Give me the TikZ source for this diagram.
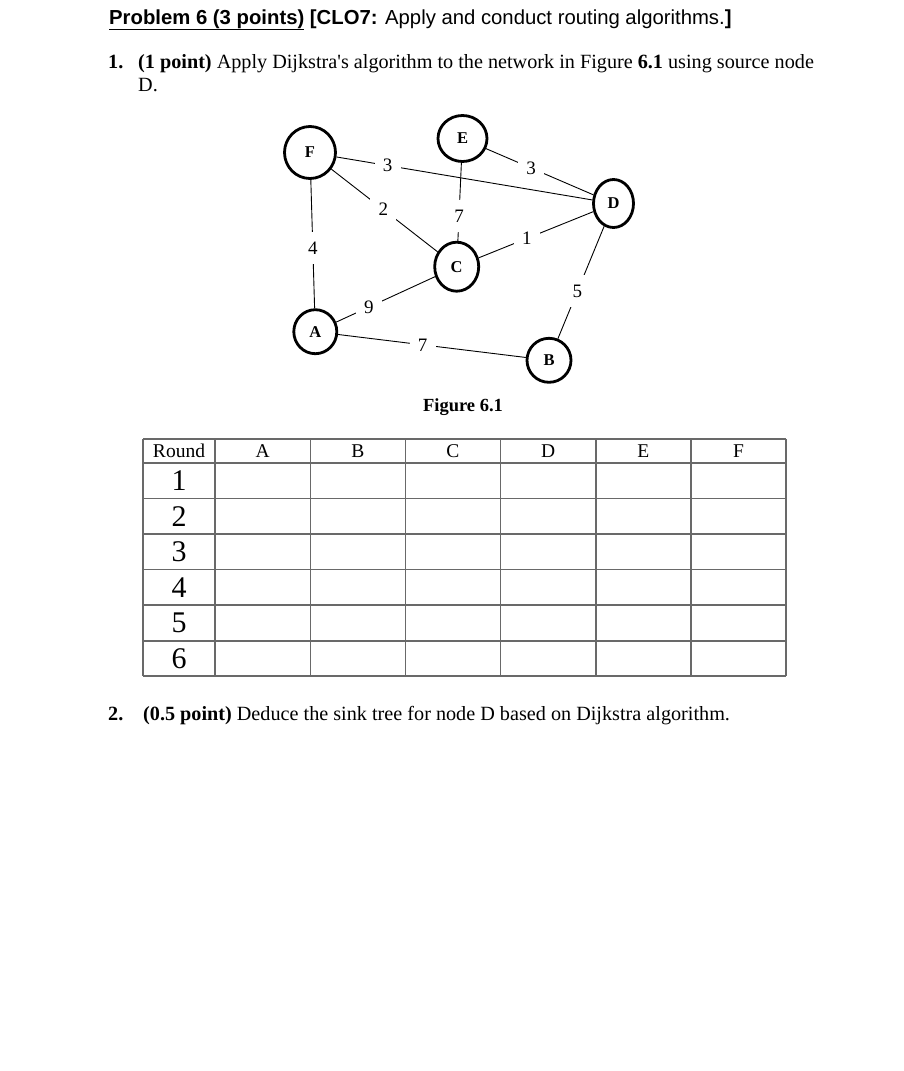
\documentclass[tikz,border=0pt]{standalone}
\usepackage{fontspec}
\setmainfont{Liberation Serif}
\newfontfamily\headfont{Liberation Sans}
\usepackage{xcolor}
\usepackage{tikz}
\usetikzlibrary{positioning,shapes.geometric}
\definecolor{GridGray}{RGB}{105,105,105}

\tikzset{
  vertex/.style={ellipse,draw,line width=2.8pt,inner sep=0pt,
                 font=\fontsize{16.5}{16.5}\selectfont\bfseries},
  link/.style={line width=0.9pt},
  weight/.style={fill=white,inner sep=0pt,minimum width=26pt,minimum height=32pt,
                 font=\fontsize{19}{19}\selectfont},
  cell/.style={font=\fontsize{19.5}{19.5}\selectfont,inner sep=0pt},
  roundno/.style={font=\fontsize{30}{30}\selectfont,inner sep=0pt},
  prose/.style={anchor=base west,inner sep=0pt,font=\fontsize{20.2}{23}\selectfont}
}

\begin{document}
\begin{tikzpicture}[x=1pt,y=-1pt]
  \useasboundingbox[fill=white] (0,0) rectangle (904,1071);

  % heading and first question
  \node[prose,font=\headfont\fontsize{20.3}{24}\selectfont] (title) at (109,24)
    {\textbf{\underline{Problem 6 (3 points)}} \textbf{[CLO7:} Apply and conduct routing algorithms.\textbf{]}};
  \node[prose] (q1num) at (108,68) {\textbf{1.}};
  \node[prose] (q1) at (138,68)
    {\textbf{(1 point)} Apply Dijkstra\textquotesingle s algorithm to the network in Figure \textbf{6.1} using source node};
  \node[prose] (q1end) at (138,91) {D.};

  % network of Figure 6.1
  \node[vertex,minimum width=51pt,minimum height=52pt] (F) at (310,152.5) {F};
  \node[vertex,minimum width=49pt,minimum height=46pt] (E) at (462.5,138.5) {E};
  \node[vertex,minimum width=40pt,minimum height=48pt] (D) at (613.5,203.5) {D};
  \node[vertex,minimum width=44pt,minimum height=49pt] (C) at (456.7,266.7) {C};
  \node[vertex,minimum width=43pt,minimum height=44pt] (A) at (315.3,331.7) {A};
  \node[vertex,minimum width=44pt,minimum height=44pt] (B) at (549,360.3) {B};

  \draw[link] (F) -- node[weight,pos=.2]{3} (D);
  \draw[link] (E) -- node[weight,pos=.42]{3} (D);
  \draw[link] (E) -- node[weight,pos=.68]{7} (C);
  \draw[link] (F) -- node[weight,pos=.49]{2} (C);
  \draw[link] (F) -- node[weight,pos=.53]{4} (A);
  \draw[link] (C) -- node[weight,pos=.42]{1} (D);
  \draw[link] (D) -- node[weight,pos=.58]{5} (B);
  \draw[link] (A) -- node[weight,pos=.33]{9} (C);
  \draw[link] (A) -- node[weight,pos=.45]{7} (B);

  \node[font=\fontsize{18.5}{18.5}\selectfont\bfseries,anchor=base] (caption) at (463,411) {Figure 6.1};

  % table of rounds
  \foreach \x in {143,215,310.5,405.5,500.5,596,691,786}
    \draw[GridGray,line width=1.3pt] (\x,439) -- (\x,676);
  \foreach \y in {439,463,498.5,534,569.5,605,641,676}
    \draw[GridGray,line width=1.3pt] (143,\y) -- (786,\y);
  \node[cell] (hRound) at (179,451) {Round};
  \foreach \name [count=\i] in {A,B,C,D,E,F}
    \node[cell] (h\name) at ({215+95.17*(\i-0.5)},451) {\name};
  \foreach \r [count=\i] in {480.75,516.25,551.75,587.25,623,658.5}
    \node[roundno] (r\i) at (179,\r) {\i};

  % second question
  \node[prose] (q2num) at (108,720) {\textbf{2.}};
  \node[prose] (q2) at (143,720)
    {\textbf{(0.5 point)} Deduce the sink tree for node D based on Dijkstra algorithm.};
\end{tikzpicture}
\end{document}
